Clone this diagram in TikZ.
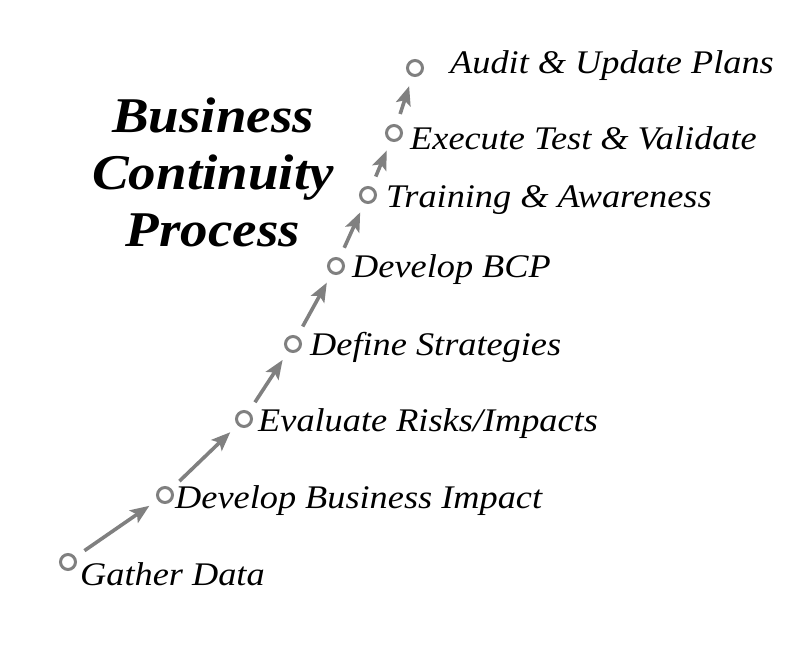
\documentclass[tikz,border=0pt]{standalone}
\usepackage{fontspec}
\setmainfont{Liberation Serif}
\newfontfamily\lblfont[FakeStretch=1.1]{Liberation Serif}
\usetikzlibrary{arrows.meta}
\definecolor{stepgray}{RGB}{128,128,128}
\tikzset{
  dot/.style={circle, draw=stepgray, line width=3pt, fill=white, minimum size=15pt, inner sep=0pt},
  lbl/.style={anchor=west, inner sep=0pt, font=\lblfont\fontsize{33}{36}\selectfont\itshape},
  conn/.style={draw=stepgray, line width=3.6pt, shorten <=11pt, shorten >=10pt, -{Stealth[length=19pt,width=15pt,inset=4pt]}},
  ttl/.style={font=\lblfont\fontsize{50}{57}\selectfont\bfseries\itshape, align=center, inner sep=0pt}
}
\begin{document}
\begin{tikzpicture}[x=1pt,y=-1pt]
\useasboundingbox (0,0) rectangle (800,648);
\node[dot] (d1) at (68,562) {};
\node[dot] (d2) at (165,495) {};
\node[dot] (d3) at (244,419) {};
\node[dot] (d4) at (293,344) {};
\node[dot] (d5) at (336,266) {};
\node[dot] (d6) at (368,195) {};
\node[dot] (d7) at (394,133) {};
\node[dot] (d8) at (415,68) {};
\node[lbl] (t1) at (80,574) {Gather Data};
\node[lbl] (t2) at (175,501) {Develop Business Impact};
\node[lbl] (t3) at (258,424) {Evaluate Risks/Impacts};
\node[lbl] (t4) at (310,347) {Define Strategies};
\node[lbl] (t5) at (352,270) {Develop BCP};
\node[lbl] (t6) at (386,200) {Training \& Awareness};
\node[lbl] (t7) at (410,138) {Execute Test \& Validate};
\node[lbl] (t8) at (450,66) {Audit \& Update Plans};
\node[ttl] (title) at (213,172) {Business\\Continuity\\Process};
\draw[conn] (d1) -- (d2);
\draw[conn] (d2) -- (d3);
\draw[conn] (d3) -- (d4);
\draw[conn] (d4) -- (d5);
\draw[conn] (d5) -- (d6);
\draw[conn] (d6) -- (d7);
\draw[conn] (d7) -- (d8);
\end{tikzpicture}
\end{document}
